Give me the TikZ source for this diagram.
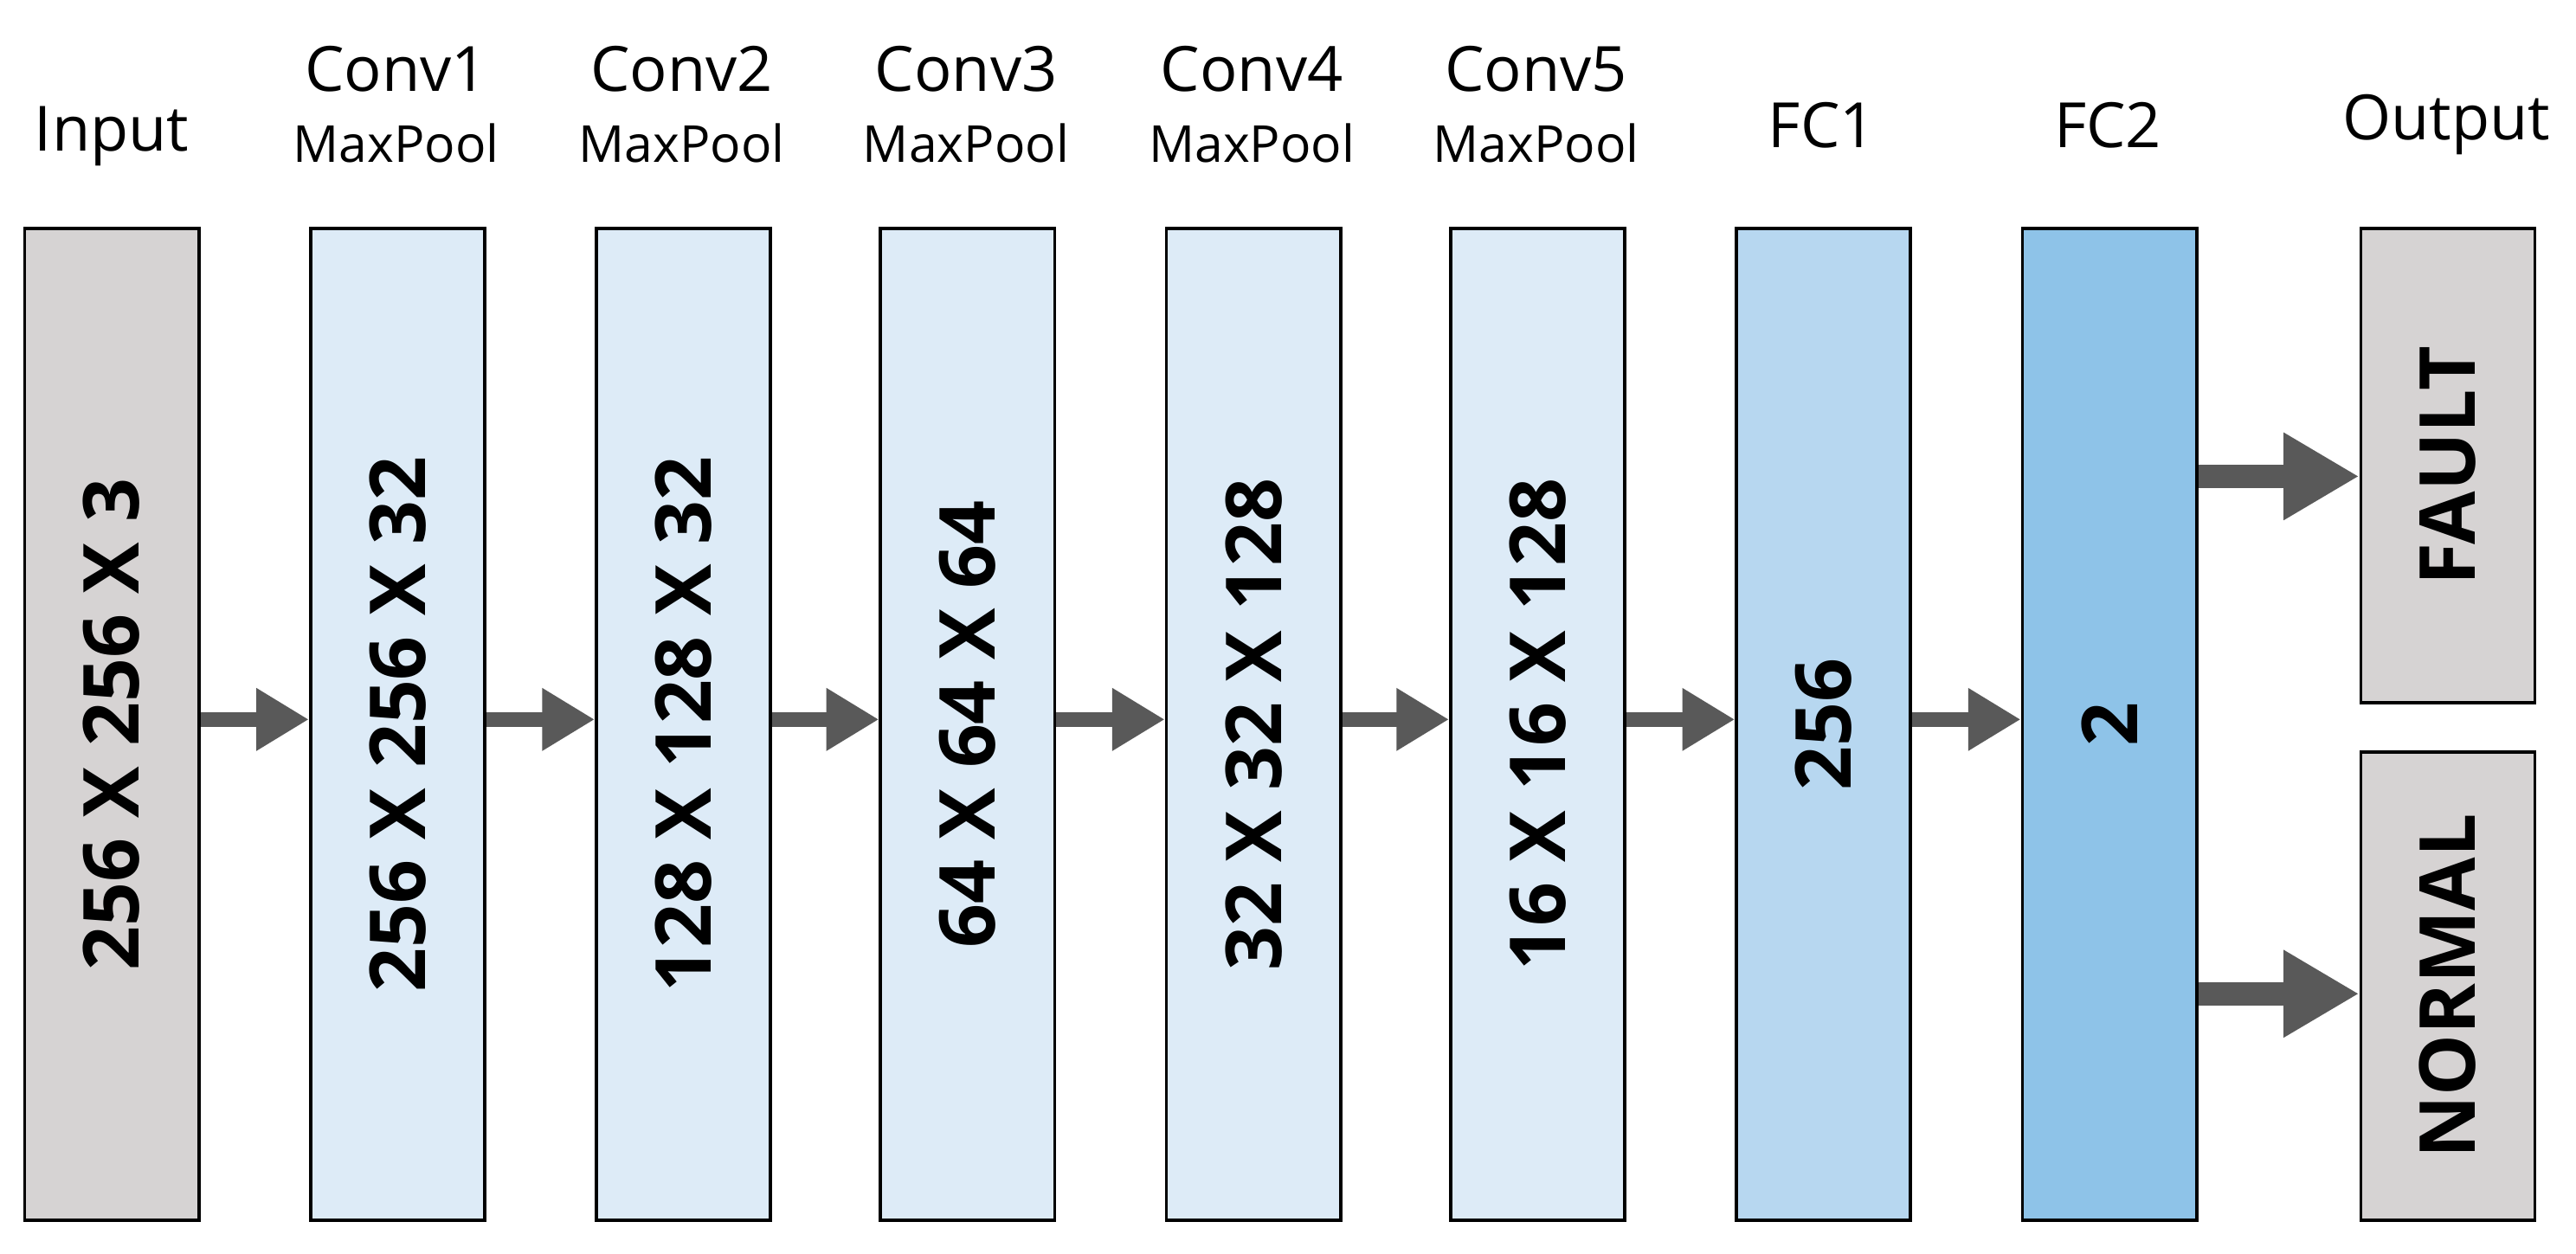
\documentclass[tikz,border=0pt]{standalone}
\usepackage{fontspec}
\setmainfont{Open Sans}
\usetikzlibrary{arrows.meta}
\definecolor{gbox}{HTML}{D6D3D3}
\definecolor{lb}{HTML}{DDEBF7}
\definecolor{mb}{HTML}{B7D7F0}
\definecolor{db}{HTML}{8EC3E8}
\definecolor{arr}{HTML}{595959}
\tikzset{
 layer/.style={draw=black,line width=2pt,minimum width=106pt,minimum height=604pt,anchor=north west,inner sep=0pt},
 lab/.style={rotate=90,font=\fontsize{47}{49}\selectfont\bfseries},
 ttl/.style={font=\fontsize{38}{40}\selectfont},
 sub/.style={font=\fontsize{31}{33}\selectfont},
 conn/.style={arr,line width=9pt,-{Triangle[length=32pt,width=36pt]}},
 bconn/.style={arr,line width=14pt,-{Triangle[length=46pt,width=50pt]}}
}
\begin{document}
\begin{tikzpicture}[x=1pt,y=-1pt]
\useasboundingbox (0,0) rectangle (1568,763);
\node[layer,fill=gbox] (in) at (14,138) {};
\node[lab] at (in.center) {256 X 256 X 3};
\node[ttl] at (68,83) {Input};
\foreach \i/\x/\t in {1/188/256 X 256 X 32,2/362/128 X 128 X 32,3/535/64 X 64 X 64,4/709/32 X 32 X 128,5/882/16 X 16 X 128}{
 \node[layer,fill=lb] (c\i) at (\x,138) {};
 \node[lab] at (c\i.center) {\t};
 \node[ttl] at (\x+53,42) {Conv\i};
 \node[sub] at (\x+53,87) {MaxPool};
}
\node[layer,fill=mb] (f1) at (1056,138) {};
\node[lab] at (f1.center) {256};
\node[ttl] at (1109,76) {FC1};
\node[layer,fill=db] (f2) at (1230,138) {};
\node[lab] at (f2.center) {2};
\node[ttl] at (1283,76) {FC2};
\node[layer,fill=gbox,minimum height=289pt] (fa) at (1436,138) {};
\node[lab] at (fa.center) {FAULT};
\node[layer,fill=gbox,minimum height=285pt] (no) at (1436,457) {};
\node[lab] at (no.center) {NORMAL};
\node[ttl] at (1489,76) {Output};
\coordinate (m) at (0,438);
\draw[conn] (in.east|-m) -- (c1.west|-m);
\draw[conn] (c1.east|-m) -- (c2.west|-m);
\draw[conn] (c2.east|-m) -- (c3.west|-m);
\draw[conn] (c3.east|-m) -- (c4.west|-m);
\draw[conn] (c4.east|-m) -- (c5.west|-m);
\draw[conn] (c5.east|-m) -- (f1.west|-m);
\draw[conn] (f1.east|-m) -- (f2.west|-m);
\coordinate (u) at (0,290);
\coordinate (d) at (0,605);
\draw[bconn] (f2.east|-u) -- (fa.west|-u);
\draw[bconn] (f2.east|-d) -- (no.west|-d);
\end{tikzpicture}
\end{document}
